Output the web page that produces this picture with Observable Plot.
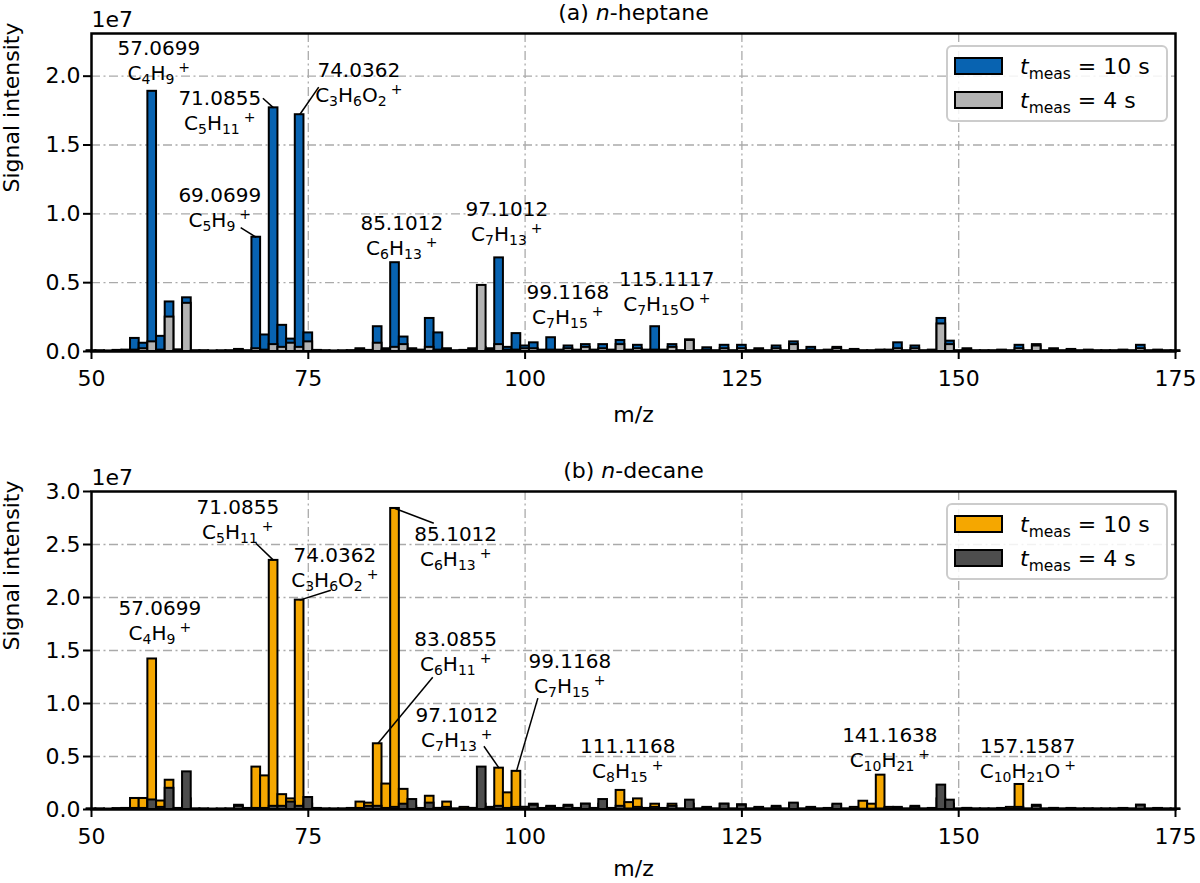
<!DOCTYPE html>
<html>
<head>
<meta charset="utf-8">
<script src="https://cdn.jsdelivr.net/npm/d3@7"></script>
<script src="https://cdn.jsdelivr.net/npm/@observablehq/plot@0.6"></script>
<style>
  body { margin: 0; background: #fff; font-family: "DejaVu Sans", sans-serif; }
  #chart { position: relative; width: 1200px; height: 883px; }
  #chart svg { display: block; }
  [aria-label$="axis tick"] { stroke-width: 2; }
  .tick line { stroke-width: 2; }
  .legend { position: absolute; left: 946px; width: 222px; height: 77px; box-sizing: border-box;
            border: 2px solid #cccccc; border-radius: 6px; background: rgba(255,255,255,0.85);
            font-size: 22px; color: #000; }
  .legend .row { position: absolute; left: 6px; height: 30px; display: flex; align-items: center; }
  .legend .sw { width: 49px; height: 18px; box-sizing: border-box; border: 2px solid #000; margin-right: 17px; }
  .legend sub { font-size: 15.5px; vertical-align: -5px; line-height: 0; }
</style>
</head>
<body>
<div id="chart"></div>
<script>
// m/z positions (integer bins)
const mz = d3.range(50, 176)

// signal intensities in units of 1e7, one per m/z from 50 to 175
const heptane10 = [
  0.005,0.005,0.003,0.008,0.01,0.095,0.06,1.89,0.11,0.36,
  0.012,0.39,0.005,0.005,0.003,0.004,0.005,0.015,0.005,0.83,
  0.12,1.77,0.19,0.09,1.72,0.135,0.008,0.005,0.003,0.004,
  0.006,0.02,0.008,0.18,0.02,0.645,0.105,0.02,0.01,0.24,
  0.135,0.02,0.005,0.008,0.02,0.03,0.02,0.68,0.03,0.13,
  0.04,0.063,0.01,0.10,0.01,0.04,0.01,0.05,0.01,0.05,
  0.01,0.08,0.01,0.045,0.01,0.18,0.01,0.05,0.005,0.085,
  0.005,0.027,0.005,0.045,0.005,0.045,0.005,0.02,0.005,0.04,
  0.005,0.07,0.005,0.03,0.005,0.01,0.03,0.005,0.015,0.005,
  0.005,0.01,0.01,0.063,0.005,0.04,0.005,0.01,0.24,0.075,
  0.005,0.02,0.005,0.005,0.005,0.01,0.005,0.045,0.005,0.05,
  0.005,0.02,0.005,0.015,0.005,0.01,0.005,0.005,0.005,0.01,
  0.005,0.045,0.005,0.01,0.005,0.005
]
const heptane4 = [
  0.003,0.003,0.002,0.005,0.005,0.01,0.02,0.07,0.01,0.25,
  0.005,0.35,0.003,0.003,0.002,0.003,0.003,0.01,0.003,0.02,
  0.01,0.05,0.03,0.06,0.03,0.07,0.005,0.003,0.002,0.003,
  0.003,0.01,0.005,0.06,0.01,0.03,0.05,0.01,0.005,0.03,
  0.01,0.01,0.003,0.005,0.01,0.48,0.01,0.05,0.01,0.01,
  0.02,0.02,0.005,0.01,0.005,0.02,0.005,0.03,0.005,0.02,
  0.005,0.05,0.005,0.02,0.005,0.01,0.005,0.03,0.003,0.08,
  0.003,0.01,0.003,0.02,0.003,0.02,0.003,0.01,0.003,0.02,
  0.003,0.05,0.003,0.01,0.003,0.005,0.02,0.003,0.005,0.003,
  0.003,0.005,0.005,0.02,0.003,0.02,0.003,0.005,0.2,0.05,
  0.003,0.01,0.003,0.003,0.003,0.005,0.003,0.02,0.003,0.04,
  0.003,0.01,0.003,0.005,0.003,0.005,0.003,0.003,0.003,0.005,
  0.003,0.02,0.003,0.005,0.003,0.003
]
const decane10 = [
  0.005,0.005,0.003,0.008,0.01,0.104,0.104,1.42,0.08,0.276,
  0.01,0.1,0.005,0.005,0.003,0.004,0.005,0.04,0.01,0.40,
  0.317,2.35,0.14,0.1,1.975,0.05,0.01,0.005,0.005,0.005,
  0.01,0.07,0.06,0.62,0.24,2.84,0.19,0.03,0.01,0.125,
  0.01,0.07,0.005,0.02,0.01,0.05,0.02,0.39,0.157,0.36,
  0.02,0.05,0.01,0.03,0.01,0.04,0.01,0.05,0.01,0.05,
  0.01,0.18,0.065,0.1,0.01,0.05,0.01,0.05,0.005,0.05,
  0.005,0.02,0.005,0.05,0.005,0.045,0.005,0.02,0.005,0.03,
  0.005,0.05,0.005,0.02,0.005,0.01,0.04,0.005,0.02,0.078,
  0.05,0.324,0.02,0.02,0.005,0.03,0.005,0.01,0.1,0.05,
  0.005,0.01,0.005,0.005,0.005,0.01,0.02,0.236,0.005,0.04,
  0.005,0.01,0.005,0.01,0.005,0.005,0.005,0.005,0.005,0.01,
  0.005,0.04,0.005,0.01,0.005,0.005
]
const decane4 = [
  0.003,0.003,0.002,0.005,0.005,0.01,0.01,0.09,0.02,0.2,
  0.005,0.355,0.003,0.003,0.002,0.003,0.003,0.03,0.003,0.01,
  0.01,0.03,0.03,0.07,0.03,0.113,0.005,0.003,0.002,0.003,
  0.003,0.01,0.03,0.03,0.01,0.02,0.05,0.094,0.005,0.06,
  0.01,0.02,0.003,0.005,0.01,0.40,0.01,0.03,0.01,0.02,
  0.02,0.04,0.005,0.02,0.005,0.03,0.005,0.05,0.005,0.094,
  0.005,0.03,0.005,0.02,0.005,0.02,0.005,0.03,0.003,0.088,
  0.003,0.01,0.003,0.05,0.003,0.04,0.003,0.01,0.003,0.02,
  0.003,0.06,0.003,0.01,0.003,0.005,0.05,0.003,0.005,0.003,
  0.003,0.005,0.005,0.01,0.003,0.02,0.003,0.005,0.23,0.088,
  0.003,0.01,0.003,0.003,0.003,0.005,0.003,0.02,0.003,0.03,
  0.003,0.01,0.003,0.005,0.003,0.005,0.003,0.003,0.003,0.005,
  0.003,0.04,0.003,0.005,0.003,0.003
]

const xTicks = [50, 75, 100, 125, 150, 175]
const yTicksA = [0, 0.5, 1.0, 1.5, 2.0]
const yTicksB = [0, 0.5, 1.0, 1.5, 2.0, 2.5, 3.0]

// peak annotations: peak m/z, exact mass, formula, label centre (m/z, 1e7) and optional leader start
const labelsA = [
  {peak: 57, mass: "57.0699", formula: "C_{4}H_{9}^{+}", lx: 57.76, ly: 2.115},
  {peak: 71, mass: "71.0855", formula: "C_{5}H_{11}^{+}", lx: 64.79, ly: 1.749, sx: 69.76, sy: 1.84},
  {peak: 74, mass: "74.0362", formula: "C_{3}H_{6}O_{2}^{+}", lx: 80.82, ly: 1.952, sx: 76.2, sy: 1.92},
  {peak: 69, mass: "69.0699", formula: "C_{5}H_{9}^{+}", lx: 64.79, ly: 1.045, sx: 67.2, sy: 0.90},
  {peak: 85, mass: "85.1012", formula: "C_{6}H_{13}^{+}", lx: 85.78, ly: 0.842},
  {peak: 97, mass: "97.1012", formula: "C_{7}H_{13}^{+}", lx: 97.89, ly: 0.943},
  {peak: 99, mass: "99.1168", formula: "C_{7}H_{15}^{+}", lx: 104.93, ly: 0.341},
  {peak: 115, mass: "115.1117", formula: "C_{7}H_{15}O^{+}", lx: 116.34, ly: 0.435}
]
const labelsB = [
  {peak: 57, mass: "57.0699", formula: "C_{4}H_{9}^{+}", lx: 57.88, ly: 1.781},
  {peak: 71, mass: "71.0855", formula: "C_{5}H_{11}^{+}", lx: 66.87, ly: 2.739, sx: 68.95, sy: 2.512},
  {peak: 74, mass: "74.0362", formula: "C_{3}H_{6}O_{2}^{+}", lx: 78.06, ly: 2.281, sx: 77.6, sy: 2.069},
  {peak: 85, mass: "85.1012", formula: "C_{6}H_{13}^{+}", lx: 92.0, ly: 2.484, sx: 89.47, sy: 2.70},
  {peak: 83, mass: "83.0855", formula: "C_{6}H_{11}^{+}", lx: 92.0, ly: 1.489, sx: 89.35, sy: 1.247},
  {peak: 97, mass: "97.1012", formula: "C_{7}H_{13}^{+}", lx: 92.13, ly: 0.776, sx: 95.25, sy: 0.597},
  {peak: 99, mass: "99.1168", formula: "C_{7}H_{15}^{+}", lx: 105.15, ly: 1.281, sx: 101.47, sy: 1.051},
  {peak: 111, mass: "111.1168", formula: "C_{8}H_{15}^{+}", lx: 111.84, ly: 0.484},
  {peak: 141, mass: "141.1638", formula: "C_{10}H_{21}^{+}", lx: 142.06, ly: 0.583},
  {peak: 157, mass: "157.1587", formula: "C_{10}H_{21}O^{+}", lx: 157.97, ly: 0.479}
]

const gridStyle = {stroke: "#aaaaaa", strokeWidth: 1.3, strokeDasharray: "9,3.5,2,3.5"}

function panel({title, s10, s4, c10, c4, labels, ymax, yTicks, height, mt, mb, xlabelDy}) {
  const bars = mz.map((m, i) => ({mz: m, a: s10[i], b: s4[i]}))
  const leaders = labels.filter(d => d.sx != null)
    .map(d => ({x1: d.sx, y1: d.sy, x2: d.peak, y2: s10[d.peak - 50]}))
  return Plot.plot({
    width: 1200,
    height: height,
    marginLeft: 91,
    marginRight: 25,
    marginTop: mt,
    marginBottom: mb,
    style: {fontFamily: "DejaVu Sans", fontSize: "22px", color: "#000", background: "#fff"},
    x: {domain: [50, 175], ticks: xTicks, tickFormat: d3.format("d"), tickSize: 8, tickPadding: 11, label: null},
    y: {domain: [0, ymax], ticks: yTicks, tickFormat: d3.format(".1f"), tickSize: 8, tickPadding: 3, label: null},
    marks: [
      Plot.ruleX(xTicks.slice(1, -1), gridStyle),
      Plot.ruleY(yTicks.slice(1).filter(v => v < ymax), gridStyle),
      Plot.rectY(bars, {x1: d => d.mz - 0.5, x2: d => d.mz + 0.5, y: "a", fill: c10, stroke: "#000", strokeWidth: 2}),
      Plot.rectY(bars, {x1: d => d.mz - 0.5, x2: d => d.mz + 0.5, y: "b", fill: c4, stroke: "#000", strokeWidth: 2}),
      Plot.link(leaders, {x1: "x1", y1: "y1", x2: "x2", y2: "y2", stroke: "#000", strokeWidth: 1.5}),
      Plot.text(labels, {x: "lx", y: "ly", text: "mass", dy: -12, fontSize: 20}),
      Plot.text(labels, {x: "lx", y: "ly", text: "formula", dy: 13, fontSize: 20}),
      Plot.frame({stroke: "#000", strokeWidth: 2.5}),
      Plot.text([title], {frameAnchor: "top", lineAnchor: "middle", dy: -21, fontSize: 22}),
      Plot.text(["1e7"], {frameAnchor: "top-left", lineAnchor: "middle", dy: -14, textAnchor: "start", fontSize: 22}),
      Plot.text(["Signal intensity"], {frameAnchor: "left", dx: -80, rotate: -90, fontSize: 22}),
      Plot.text(["m/z"], {frameAnchor: "bottom", lineAnchor: "middle", dy: xlabelDy, fontSize: 22})
    ]
  })
}

// turn _{..} / ^{..} / *..* markers into sub-, superscript and italic tspans
function rich(svg) {
  d3.select(svg).selectAll("text").each(function () {
    const t = d3.select(this)
    const s = t.text()
    if (!/[_^*]/.test(s)) return
    t.text(null)
    let shift = 0
    for (const m of s.matchAll(/_\{([^}]*)\}|\^\{([^}]*)\}|\*([^*]*)\*|([^_^*]+)/g)) {
      const sp = t.append("tspan")
      if (m[1] != null) {
        sp.text(m[1]).attr("font-size", 14).attr("dy", 4 - shift); shift = 4
      } else if (m[2] != null) {
        sp.text(m[2]).attr("font-size", 14).attr("dx", 4).attr("dy", -8 - shift); shift = -8
      } else if (m[3] != null) {
        sp.text(m[3]).attr("font-style", "italic").attr("dy", -shift); shift = 0
      } else {
        sp.text(m[4]).attr("dy", -shift); shift = 0
      }
    }
  })
}

const chartA = panel({
  title: "(a) *n*-heptane", s10: heptane10, s4: heptane4, c10: "#0863b1", c4: "#b3b3b3",
  labels: labelsA, ymax: 2.31, yTicks: yTicksA, height: 440, mt: 33, mb: 89, xlabelDy: 63
})
const chartB = panel({
  title: "(b) *n*-decane", s10: decane10, s4: decane4, c10: "#f5a700", c4: "#4d4d4d",
  labels: labelsB, ymax: 3.0, yTicks: yTicksB, height: 443, mt: 51, mb: 74, xlabelDy: 59
})
rich(chartA)
rich(chartB)

d3.select('#chart').append(() => chartA)
d3.select('#chart').append(() => chartB)

function legend(top, c10, c4) {
  const lg = d3.select('#chart').append('div').attr('class', 'legend').style('top', top + 'px')
  const rows = [["10 s", c10], ["4 s", c4]]
  rows.forEach(([lab, col], i) => {
    const r = lg.append('div').attr('class', 'row').style('top', (4 + i * 34) + 'px')
    r.append('span').attr('class', 'sw').style('background', col)
    r.append('span').html(`<i>t</i><sub>meas</sub> = ${lab}`)
  })
}
legend(45, "#0863b1", "#b3b3b3")
legend(503, "#f5a700", "#4d4d4d")
</script>
</body>
</html>
